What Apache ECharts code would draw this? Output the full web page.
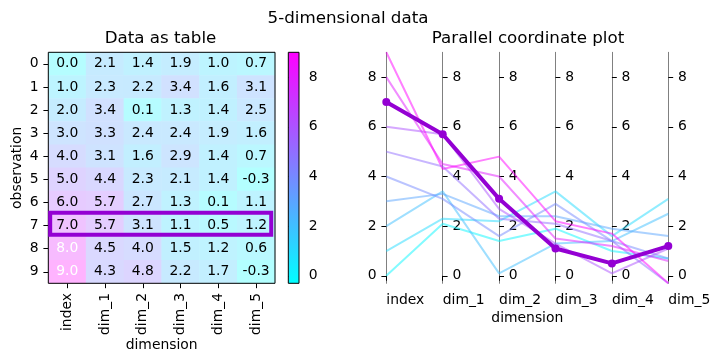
<!DOCTYPE html>
<html><head><meta charset="utf-8">
<script src="https://cdn.jsdelivr.net/npm/echarts@6/dist/echarts.min.js"></script>
<style>html,body{margin:0;padding:0;background:#fff}#c{width:720px;height:364px}</style>
</head><body><div id="c"></div>
<script>
// ---- data ----
const dimensions = ['index', 'dim_1', 'dim_2', 'dim_3', 'dim_4', 'dim_5'];
const observations = ['0', '1', '2', '3', '4', '5', '6', '7', '8', '9'];
const indexCol = [0.0, 1.0, 2.0, 3.0, 4.0, 5.0, 6.0, 7.0, 8.0, 9.0];
const dim1 = [2.1, 2.3, 3.4, 3.3, 3.1, 4.4, 5.7, 5.7, 4.5, 4.3];
const dim2 = [1.4, 2.2, 0.1, 2.4, 1.6, 2.3, 2.7, 3.1, 4.0, 4.8];
const dim3 = [1.9, 3.4, 1.3, 2.4, 2.9, 2.1, 1.3, 1.1, 1.5, 2.2];
const dim4 = [1.0, 1.6, 1.4, 1.9, 1.4, 1.4, 0.1, 0.5, 1.2, 1.7];
const dim5 = [0.7, 3.1, 2.5, 1.6, 0.7, -0.3, 1.1, 1.2, 0.6, -0.3];
const highlightRow = 7;
const colorTicks = [0, 2, 4, 6, 8];
const vMin = -0.3, vMax = 9.0;

const columns = [indexCol, dim1, dim2, dim3, dim4, dim5];
const rows = observations.map((_, i) => columns.map(c => c[i]));

const FONT = 'DejaVu Sans';
const FS = 13.9;

function cool(v, alpha) {
  let t = (v - vMin) / (vMax - vMin);
  t = Math.max(0, Math.min(1, t));
  const a = alpha;
  const r = Math.round(255 * (1 - a + a * t));
  const g = Math.round(255 * (1 - a + a * (1 - t)));
  return 'rgb(' + r + ',' + g + ',255)';
}

const heatData = [];
rows.forEach((row, i) => row.forEach((v, j) => {
  heatData.push({ value: [j, i, v], itemStyle: { color: cool(v, 0.3) },
    label: { color: v > 7.5 ? '#ffffff' : '#000000' } });
}));

const G0 = { left: 48.3, top: 52.3, width: 226.7, height: 231 };
const G1 = { left: 288.3, top: 52.3, width: 10.7, height: 231 };
const G2 = { left: 386.3, top: 52.3, width: 282, height: 231 };

const txt = { fontFamily: FONT, fontSize: FS, color: '#000' };

const yAxesPar = dimensions.map((d, i) => ({
  gridIndex: 2, type: 'value', min: vMin, max: vMax,
  position: i === 0 ? 'left' : 'right',
  offset: i === 0 ? 0 : -(5 - i) * G2.width / 5,
  axisLine: { show: true, onZero: false, lineStyle: { color: '#808080', width: 1 } },
  axisTick: { show: true, length: 4.9, customValues: colorTicks, lineStyle: { color: '#000' } },
  axisLabel: Object.assign({ show: true, margin: 9.7, customValues: colorTicks }, txt),
  splitLine: { show: false }
}));

const lineSeries = rows.map((row, i) => ({
  type: 'line', xAxisIndex: 2, yAxisIndex: 2, data: row, symbol: 'none', silent: true,
  lineStyle: { color: cool(indexCol[i], 1), width: 2, opacity: 0.5 }, z: 3
}));

const option = {
  animation: false,
  backgroundColor: '#fff',
  title: [
    { text: '5-dimensional data', left: 348, top: 10.5, textAlign: 'center', padding: 0,
      textStyle: { fontFamily: FONT, fontSize: 16.7, fontWeight: 'normal', color: '#000' } },
    { text: 'Data as table', left: 160.5, top: 30.5, textAlign: 'center', padding: 0,
      textStyle: { fontFamily: FONT, fontSize: 16.7, fontWeight: 'normal', color: '#000' } },
    { text: 'Parallel coordinate plot', left: 528, top: 30.5, textAlign: 'center', padding: 0,
      textStyle: { fontFamily: FONT, fontSize: 16.7, fontWeight: 'normal', color: '#000' } }
  ],
  grid: [
    Object.assign({ outerBoundsMode: 'none' }, G0),
    Object.assign({ outerBoundsMode: 'none' }, G1),
    Object.assign({ outerBoundsMode: 'none' }, G2)
  ],
  xAxis: [
    { gridIndex: 0, type: 'category', data: dimensions,
      axisLine: { show: false }, splitLine: { show: false },
      axisTick: { show: true, alignWithLabel: true, interval: 0, length: 4.9, lineStyle: { color: '#000' } },
      axisLabel: Object.assign({ rotate: 90, margin: 9.7, interval: 0 }, txt),
      name: 'dimension', nameLocation: 'middle', nameGap: 55, nameMoveOverlap: false, nameTextStyle: txt },
    { gridIndex: 1, type: 'value', min: 0, max: 1, show: false },
    { gridIndex: 2, type: 'category', data: dimensions, boundaryGap: false,
      axisLine: { show: false }, splitLine: { show: false },
      axisTick: { show: true, interval: 0, length: 4.9, lineStyle: { color: '#000' } },
      axisLabel: Object.assign({ align: 'left', margin: 9.7, interval: 0 }, txt),
      name: 'dimension', nameLocation: 'middle', nameGap: 28, nameMoveOverlap: false, nameTextStyle: txt }
  ],
  yAxis: [
    { gridIndex: 0, type: 'category', data: observations, inverse: true,
      axisLine: { show: false }, splitLine: { show: false },
      axisTick: { show: true, alignWithLabel: true, interval: 0, length: 4.9, lineStyle: { color: '#000' } },
      axisLabel: Object.assign({ margin: 9.7, interval: 0 }, txt),
      name: 'observation', nameLocation: 'middle', nameGap: 24, nameMoveOverlap: false, nameTextStyle: txt },
    { gridIndex: 1, type: 'value', min: vMin, max: vMax, position: 'right',
      axisLine: { show: false }, splitLine: { show: false },
      axisTick: { show: true, length: 4.9, customValues: colorTicks, lineStyle: { color: '#000' } },
      axisLabel: Object.assign({ margin: 9.7, customValues: colorTicks }, txt) }
  ].concat(yAxesPar),
  series: [
    { type: 'heatmap', xAxisIndex: 0, yAxisIndex: 0, data: heatData,
      label: { show: true, fontFamily: FONT, fontSize: FS, formatter: p => p.value[2].toFixed(1) },
      emphasis: { disabled: true } },
    { type: 'custom', xAxisIndex: 0, yAxisIndex: 0, data: [[highlightRow]], z: 10, silent: true,
      renderItem: (params, api) => {
        const s = api.size([1, 1]);
        const tl = api.coord([0, 0]);
        const br = api.coord([dimensions.length - 1, observations.length - 1]);
        const r = api.value(0);
        const rc = api.coord([0, r]);
        const x0 = tl[0] - s[0] / 2, y0 = tl[1] - s[1] / 2;
        const x1 = br[0] + s[0] / 2, y1 = br[1] + s[1] / 2;
        const hx0 = tl[0] - s[0] * 0.45, hx1 = br[0] + s[0] * 0.4;
        const hy0 = rc[1] - s[1] * 0.55, hy1 = rc[1] + s[1] * 0.4;
        return { type: 'group', children: [
          { type: 'rect', shape: { x: x0, y: y0, width: x1 - x0, height: y1 - y0 },
            style: { fill: 'none', stroke: '#000', lineWidth: 1 } },
          { type: 'rect', shape: { x: hx0, y: hy0, width: hx1 - hx0, height: hy1 - hy0 },
            style: { fill: 'none', stroke: '#9400d3', lineWidth: 4 } }
        ] };
      } },
    { type: 'custom', xAxisIndex: 1, yAxisIndex: 1, data: [[0]], silent: true,
      renderItem: (params, api) => {
        const a = api.coord([0, vMax]);
        const b = api.coord([1, vMin]);
        return { type: 'rect', shape: { x: a[0], y: a[1], width: b[0] - a[0], height: b[1] - a[1] },
          style: { stroke: '#000', lineWidth: 1,
            fill: new echarts.graphic.LinearGradient(0, 0, 0, 1, [
              { offset: 0, color: '#ff00ff' }, { offset: 1, color: '#00ffff' }]) } };
      } }
  ].concat(lineSeries).concat([
    { type: 'line', xAxisIndex: 2, yAxisIndex: 2, data: rows[highlightRow], silent: true, z: 5,
      symbol: 'circle', symbolSize: 8, showSymbol: true,
      lineStyle: { color: '#9400d3', width: 4 }, itemStyle: { color: '#9400d3' } }
  ])
};

const chart = echarts.init(document.getElementById('c'), null, { renderer: 'canvas' });
chart.setOption(option);
</script></body></html>
